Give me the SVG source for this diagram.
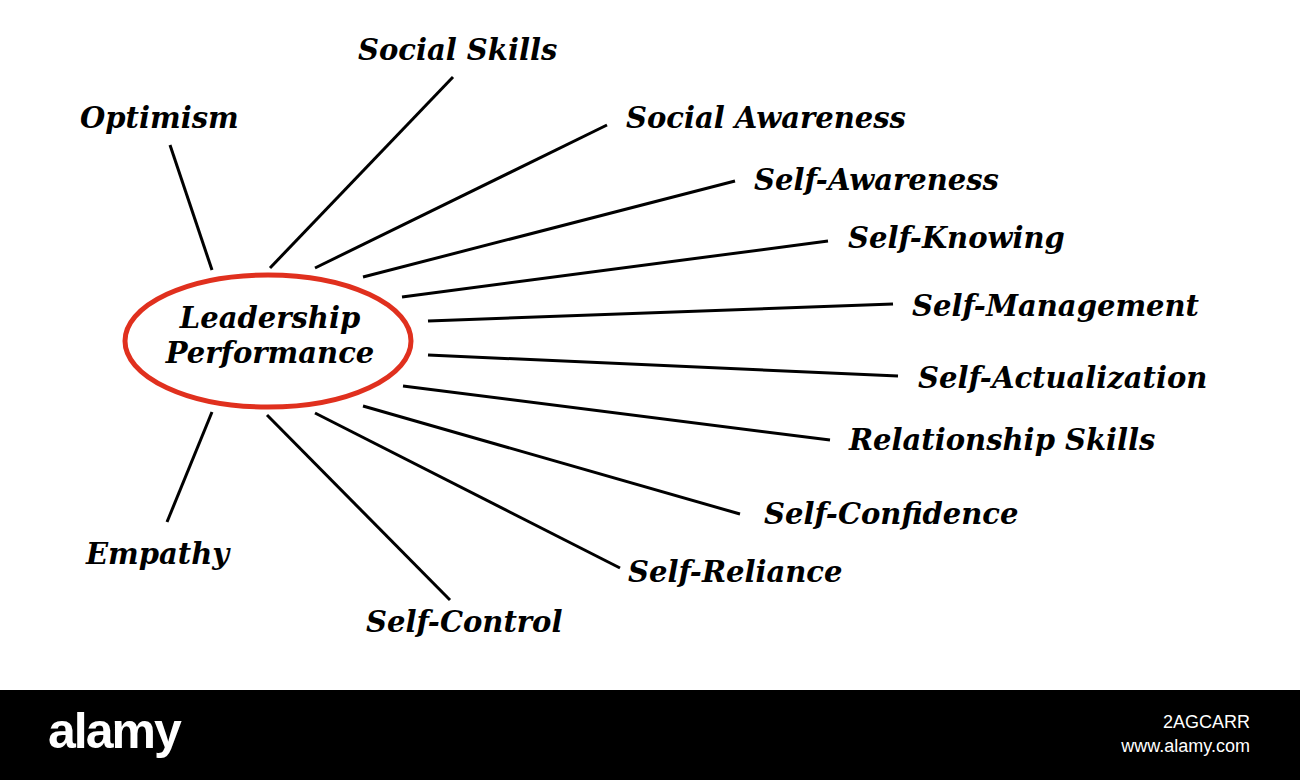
<svg xmlns="http://www.w3.org/2000/svg" width="1300" height="780" viewBox="0 0 1300 780">
<style>
.l{stroke:#000;stroke-width:3;fill:none}
.t{font-family:"DejaVu Serif","Liberation Serif",serif;font-style:italic;font-weight:bold;font-size:29px;fill:#000}
.w{fill:#fff;font-family:"Liberation Sans",sans-serif}
</style>
<rect width="1300" height="780" fill="#fff"/>
<g id="connectors">
<line class="l" x1="170" y1="145" x2="212" y2="270"/>
<line class="l" x1="453" y1="77" x2="270" y2="268"/>
<line class="l" x1="607" y1="125" x2="315" y2="268"/>
<line class="l" x1="735" y1="181" x2="363" y2="277"/>
<line class="l" x1="828" y1="241" x2="402" y2="297"/>
<line class="l" x1="893" y1="304" x2="428" y2="321"/>
<line class="l" x1="898" y1="376" x2="428" y2="355"/>
<line class="l" x1="830" y1="440" x2="403" y2="386"/>
<line class="l" x1="740" y1="514" x2="363" y2="406"/>
<line class="l" x1="620" y1="568" x2="315" y2="413"/>
<line class="l" x1="450" y1="600" x2="267" y2="415"/>
<line class="l" x1="212" y1="412" x2="167" y2="522"/>
</g>
<g id="center">
<ellipse cx="268" cy="341" rx="143" ry="66" fill="none" stroke="#e0301e" stroke-width="5"/>
<text class="t" x="270" y="328" text-anchor="middle">Leadership</text>
<text class="t" x="270" y="363" text-anchor="middle">Performance</text>
</g>
<g id="n1"><text class="t" x="80" y="128">Optimism</text></g>
<g id="n2"><text class="t" x="358" y="60">Social Skills</text></g>
<g id="n3"><text class="t" x="626" y="128">Social Awareness</text></g>
<g id="n4"><text class="t" x="754" y="190">Self-Awareness</text></g>
<g id="n5"><text class="t" x="848" y="248">Self-Knowing</text></g>
<g id="n6"><text class="t" x="912" y="316">Self-Management</text></g>
<g id="n7"><text class="t" x="918" y="388">Self-Actualization</text></g>
<g id="n8"><text class="t" x="849" y="450">Relationship Skills</text></g>
<g id="n9"><text class="t" x="764" y="524">Self-Confidence</text></g>
<g id="n10"><text class="t" x="628" y="582">Self-Reliance</text></g>
<g id="n11"><text class="t" x="366" y="632">Self-Control</text></g>
<g id="n12"><text class="t" x="86" y="564">Empathy</text></g>
<rect x="0" y="690" width="1300" height="90" fill="#000"/>
<text class="w" x="48" y="748" font-size="50" font-weight="bold" letter-spacing="-2">alamy</text>
<text class="w" x="1250" y="728" font-size="18" text-anchor="end">2AGCARR</text>
<text class="w" x="1250" y="752" font-size="18" text-anchor="end">www.alamy.com</text>
</svg>
